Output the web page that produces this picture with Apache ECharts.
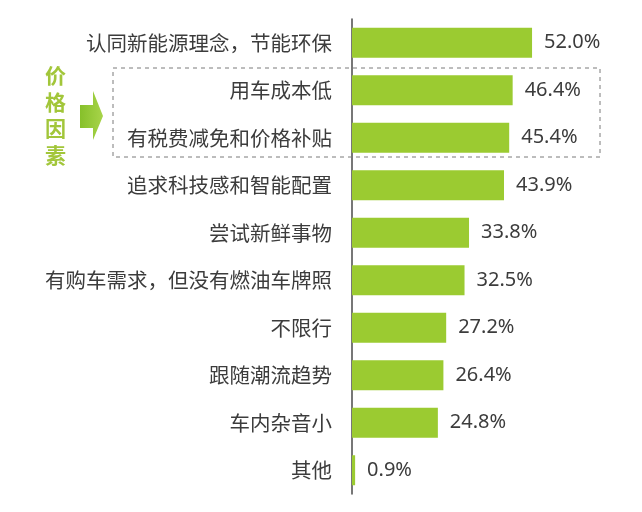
<!DOCTYPE html>
<html>
<head>
<meta charset="utf-8">
<script src="https://cdn.jsdelivr.net/npm/echarts@6/dist/echarts.min.js"></script>
<style>html,body{margin:0;padding:0;background:#fff}#c{width:642px;height:512px}</style>
</head>
<body>
<div id="c"></div>
<script>
const categories = ['认同新能源理念，节能环保','用车成本低','有税费减免和价格补贴','追求科技感和智能配置','尝试新鲜事物','有购车需求，但没有燃油车牌照','不限行','跟随潮流趋势','车内杂音小','其他'];
const values = [52.0, 46.4, 45.4, 43.9, 33.8, 32.5, 27.2, 26.4, 24.8, 0.9];
const groupLabel = '价格因素';

const chart = echarts.init(document.getElementById('c'));
chart.setOption({
  backgroundColor: '#fff',
  animation: false,
  grid: {left: 352, top: 19, width: 277, height: 475},
  xAxis: {type: 'value', min: 0, max: 80, show: false},
  yAxis: {
    type: 'category', data: categories, inverse: true,
    axisLine: {lineStyle: {color: '#4a4a4a', width: 1.5}},
    axisTick: {show: false},
    axisLabel: {fontSize: 20.5, color: '#3c3c3c', margin: 20, fontFamily: 'Noto Sans CJK SC'}
  },
  series: [{
    type: 'bar', data: values, barWidth: 30,
    itemStyle: {color: '#9bcb31'},
    label: {show: true, position: 'right', distance: 12, fontSize: 20, color: '#3c3c3c',
      fontFamily: 'Noto Sans', formatter: p => p.value.toFixed(1) + '%'}
  }],
  graphic: [
    {type: 'rect', shape: {x: 113, y: 68, width: 487, height: 89}, z: 10,
      style: {fill: 'none', stroke: '#7a7a7a', lineWidth: 1, lineDash: [4, 4]}},
    {type: 'text', left: 45, top: 62, z: 10,
      style: {text: groupLabel.split('').join('\n'), fontSize: 21, fontWeight: 'bold', lineHeight: 26.5,
        fill: '#a2c63a', fontFamily: 'Noto Sans CJK SC'}},
    {type: 'polygon', z: 10,
      shape: {points: [[80,105],[93,105],[93,91],[103,116],[93,140],[93,128],[80,128]]},
      style: {fill: new echarts.graphic.LinearGradient(0,0,1,0,[{offset:0,color:'#86c02a'},{offset:1,color:'#a8d44a'}])}}
  ]
});
</script>
</body>
</html>
